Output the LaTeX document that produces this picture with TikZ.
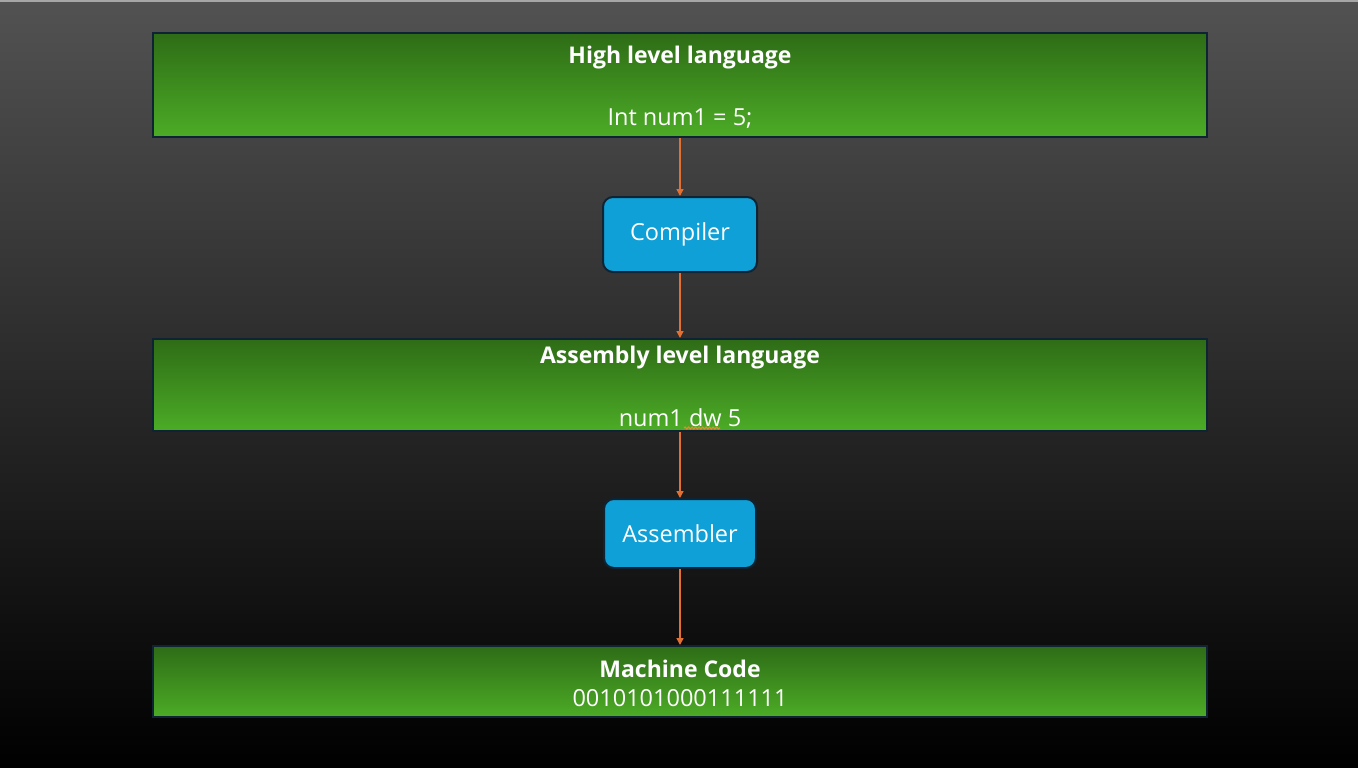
\documentclass[tikz,border=0pt]{standalone}
\usepackage{fontspec}
\setmainfont{Open Sans}
\usetikzlibrary{arrows.meta,decorations.pathmorphing}
\definecolor{gtop}{RGB}{46,108,22}
\definecolor{gbot}{RGB}{76,172,38}
\definecolor{edge}{RGB}{14,36,52}
\definecolor{boxblue}{RGB}{14,160,214}
\definecolor{arr}{RGB}{226,112,50}
\definecolor{squig}{RGB}{222,140,50}
\definecolor{bgtop}{RGB}{82,82,82}
\tikzset{
  layer/.style={draw=edge, line width=2pt, top color=gtop, bottom color=gbot, minimum width=1054pt, inner sep=0pt},
  proc/.style={draw=edge, line width=2pt, fill=boxblue, rounded corners=10pt, inner sep=0pt, text=white, font=\fontsize{23.5}{28}\selectfont},
  ttl/.style={text=white, font=\fontsize{23}{28}\selectfont\bfseries, inner sep=0pt},
  txt/.style={text=white, font=\fontsize{23.5}{28}\selectfont, inner sep=0pt},
  flow/.style={draw=arr, line width=1.5pt, -{Triangle[width=7pt,length=7pt]}}
}
\begin{document}
\begin{tikzpicture}[x=1pt,y=-1pt]
\useasboundingbox (0,0) rectangle (1358,768);
\shade[top color=bgtop, bottom color=black] (0,0) rectangle (1358,768);
\fill[gray!70] (0,0) rectangle (1358,2);
\node[layer, minimum height=104pt] (high) at (680,85) {};
\node[proc, minimum width=154pt, minimum height=75pt] (comp) at (680,234.5) {Compiler};
\node[layer, minimum height=92pt] (asm) at (680,385) {};
\node[proc, minimum width=152pt, minimum height=69pt] (asmr) at (680,533.5) {Assembler};
\node[layer, minimum height=71pt] (mach) at (680,681.5) {};
\node[ttl] (hight) at (680,58) {High level language};
\node[txt] (highc) at (680,119) {Int num1 = 5;};
\node[ttl] (asmt) at (680,358) {Assembly level language};
\node[txt] (asmc) at (680,418) {num1 dw 5};
\node[ttl] (macht) at (680,669) {Machine Code};
\node[txt] (machc) at (680,698) {0010101000111111};
\draw[squig, line width=1.1pt, decoration={snake, amplitude=1pt, segment length=3.5pt}, decorate] (684,428) -- (720,428);
\draw[flow] (high.south) -- (comp.north);
\draw[flow] (comp.south) -- (asm.north);
\draw[flow] (asm.south) -- (asmr.north);
\draw[flow] (asmr.south) -- (mach.north);
\end{tikzpicture}
\end{document}
